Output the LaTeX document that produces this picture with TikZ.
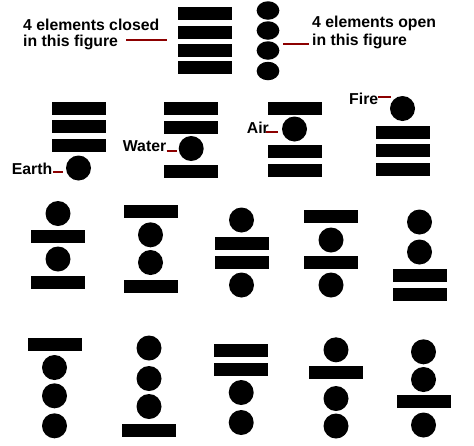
\documentclass[tikz,border=0pt]{standalone}
\usepackage{fontspec}
\setmainfont{Liberation Sans}
\usetikzlibrary{shapes.geometric}
\begin{document}
\begin{tikzpicture}[x=1pt, y=-1pt,
    bar/.style={fill=black, rectangle, minimum width=54pt, minimum height=13pt, inner sep=0pt},
    dot/.style={fill=black, circle, minimum size=25pt, inner sep=0pt},
    flatdot/.style={fill=black, ellipse, minimum width=22.7pt, minimum height=18.5pt, inner sep=0pt},
    tag/.style={anchor=base west, inner sep=0pt, font=\bfseries\fontsize{15.8}{18}\selectfont},
    tie/.style={draw=red!55!black, line width=2pt}]
    \useasboundingbox (0,0) rectangle (474,445);

    % Closed and open figure with their notes
    \foreach \y [count=\i] in {13,32,50.2,67.9}
        \node[bar] (closed-\i) at (205,\y) {};
    \foreach \y [count=\i] in {10.5,30.5,50.5,71}
        \node[flatdot] (open-\i) at (268,\y) {};

    \node[tag] (closed-a) at (23,30) {4 elements closed};
    \node[tag] (closed-b) at (23,46.7) {in this figure};
    \node[tag] (open-a) at (312,27.7) {4 elements open};
    \node[tag] (open-b) at (312,45) {in this figure};

    \coordinate (closed-l) at (126,39.5);
    \coordinate (closed-r) at (167,39.5);
    \coordinate (open-l) at (283,43.5);
    \coordinate (open-r) at (309,43.5);
    \draw[tie] (closed-l) -- (closed-r);
    \draw[tie] (open-l) -- (open-r);

    % Row of the four elements
    \foreach \y/\k [count=\i] in {108/bar,126.3/bar,145/bar,168/dot}
        \node[\k] (earth-\i) at (78.5,\y) {};
    \foreach \y/\k [count=\i] in {108.7/bar,127/bar,148.5/dot,171.2/bar}
        \node[\k] (water-\i) at (191.2,\y) {};
    \foreach \y/\k [count=\i] in {108/bar,129/dot,151.7/bar,170/bar}
        \node[\k] (air-\i) at (294.5,\y) {};
    \foreach \y/\k [count=\i] in {108.5/dot,132.5/bar,150.8/bar,169.7/bar}
        \node[\k] (fire-\i) at (402.5,\y) {};

    \node[tag] (earth) at (11.7,174.3) {Earth};
    \node[tag] (water) at (122.7,151.7) {Water};
    \node[tag] (air) at (246.7,133.3) {Air};
    \node[tag] (fire) at (349,104.3) {Fire};

    \coordinate (earth-l) at (53.3,171.7);
    \coordinate (earth-r) at (63.3,171.7);
    \coordinate (water-l) at (166.7,151.3);
    \coordinate (water-r) at (176.7,151.3);
    \coordinate (air-l) at (266,132.3);
    \coordinate (air-r) at (277.7,132.3);
    \coordinate (fire-l) at (378.3,97.3);
    \coordinate (fire-r) at (391,97.3);
    \draw[tie] (earth-l) -- (earth-r);
    \draw[tie] (water-l) -- (water-r);
    \draw[tie] (air-l) -- (air-r);
    \draw[tie] (fire-l) -- (fire-r);

    % Third row
    \foreach \y/\k [count=\i] in {213.5/dot,236.7/bar,259/dot,282.7/bar}
        \node[\k] (c-\i) at (58,\y) {};
    \foreach \y/\k [count=\i] in {211.7/bar,234.8/dot,262.5/dot,286/bar}
        \node[\k] (d-\i) at (150.5,\y) {};
    \foreach \y/\k [count=\i] in {220/dot,243.3/bar,262/bar,285/dot}
        \node[\k] (e-\i) at (241.5,\y) {};
    \foreach \y/\k [count=\i] in {216/bar,240/dot,262/bar,285/dot}
        \node[\k] (f-\i) at (331,\y) {};
    \foreach \y/\k [count=\i] in {222/dot,252/dot,275.3/bar,294/bar}
        \node[\k] (g-\i) at (419.5,\y) {};

    % Fourth row
    \foreach \y/\k [count=\i] in {344/bar,367.5/dot,395.8/dot,425.8/dot}
        \node[\k] (h-\i) at (54.5,\y) {};
    \foreach \y/\k [count=\i] in {348/dot,378.5/dot,406.5/dot,430/bar}
        \node[\k] (k-\i) at (149,\y) {};
    \foreach \y/\k [count=\i] in {350.7/bar,369.3/bar,392.5/dot,422.5/dot}
        \node[\k] (m-\i) at (241.2,\y) {};
    \foreach \y/\k [count=\i] in {349.8/dot,372.7/bar,398.5/dot,426/dot}
        \node[\k] (n-\i) at (336,\y) {};
    \foreach \y/\k [count=\i] in {351.8/dot,379.5/dot,401.7/bar,425/dot}
        \node[\k] (p-\i) at (423.5,\y) {};
\end{tikzpicture}
\end{document}
